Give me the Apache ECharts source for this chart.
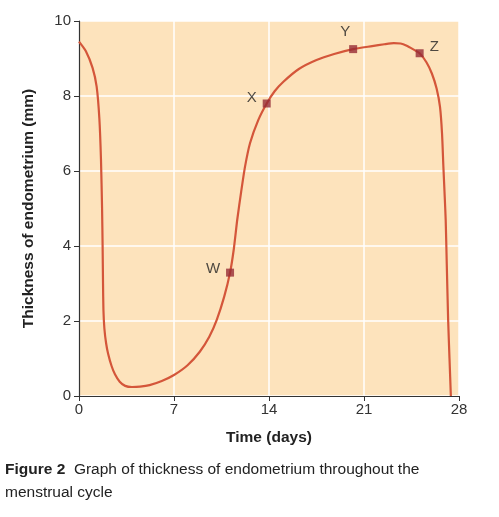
<!DOCTYPE html>
<html>
<head>
<meta charset="utf-8">
<script src="https://cdn.jsdelivr.net/npm/echarts@6/dist/echarts.min.js"></script>
<style>
  html, body { margin: 0; padding: 0; background: #fff; }
  #chart { width: 499px; height: 517px; }
</style>
</head>
<body>
<div id="chart"></div>
<script>
// curve: day -> thickness (mm)
var curveDays = [0, 0.5, 1.0, 1.3, 1.5, 1.62, 1.7, 1.74, 1.77, 1.8, 1.87, 2.0, 2.15, 2.4, 2.65, 3.0, 3.4, 3.9, 4.5, 5.2, 6.1, 7.0, 8.0, 8.9, 9.6, 10.15, 10.7, 11.13, 11.4, 11.66, 11.95, 12.23, 12.6, 13.2, 13.83, 14.4, 15.06, 16.2, 17.5, 18.8, 20.2, 21.6, 22.5, 23.2, 23.7, 24.15, 24.6, 25.1, 25.6, 26.0, 26.35, 26.6, 26.75, 26.85, 26.95, 27.02, 27.1, 27.2, 27.3, 27.4];
var curveMm   = [9.45, 9.2, 8.75, 8.25, 7.4, 6.3, 5.0, 4.0, 3.0, 2.3, 1.8, 1.4, 1.12, 0.8, 0.58, 0.38, 0.27, 0.24, 0.25, 0.29, 0.4, 0.56, 0.82, 1.18, 1.58, 2.03, 2.65, 3.29, 3.9, 4.7, 5.45, 6.11, 6.74, 7.35, 7.8, 8.12, 8.38, 8.72, 8.96, 9.12, 9.25, 9.33, 9.38, 9.41, 9.4, 9.34, 9.25, 9.14, 8.9, 8.6, 8.2, 7.71, 7.0, 6.11, 5.3, 4.69, 3.5, 2.03, 1.0, 0];

// labelled points
var pointNames = ['W', 'X', 'Y', 'Z'];
var pointDays  = [11.13, 13.83, 20.2, 25.1];
var pointMm    = [3.29, 7.8, 9.25, 9.14];

var xTicks = [0, 7, 14, 21, 28];
var yTicks = [0, 2, 4, 6, 8, 10];

var font = '"Liberation Sans", Arial, sans-serif';

var curve = curveDays.map(function (d, i) { return [d, curveMm[i]]; });
var labelPos = { W: 'left', X: 'left', Y: 'top', Z: 'right' };
var labelOffset = { W: [0, -4], X: [0, -6], Y: [-8, 0], Z: [0, -6] };
var points = pointDays.map(function (d, i) {
  var n = pointNames[i];
  return {
    value: [d, pointMm[i]],
    name: n,
    label: { position: labelPos[n], offset: labelOffset[n] }
  };
});

var myChart = echarts.init(document.getElementById('chart'));
myChart.setOption({
  animation: false,
  textStyle: { fontFamily: font },
  grid: {
    left: 79,
    right: 40,
    top: 21,
    bottom: 121,
    show: true,
    backgroundColor: '#fde3bc',
    borderWidth: 0
  },
  xAxis: {
    type: 'value',
    min: xTicks[0],
    max: xTicks[xTicks.length - 1],
    interval: 7,
    name: 'Time (days)',
    nameLocation: 'middle',
    nameGap: 34,
    nameTextStyle: { fontFamily: font, fontSize: 15.5, fontWeight: 'bold', color: '#222' },
    axisLine: { lineStyle: { color: '#333', width: 1.2 } },
    axisTick: { length: 5, lineStyle: { color: '#333' } },
    axisLabel: { fontFamily: font, fontSize: 15, color: '#333', margin: 6 },
    splitLine: { show: true, lineStyle: { color: '#fff', width: 1.5 } }
  },
  yAxis: {
    type: 'value',
    min: yTicks[0],
    max: yTicks[yTicks.length - 1],
    interval: 2,
    name: 'Thickness of endometrium (mm)',
    nameLocation: 'middle',
    nameGap: 42,
    nameTextStyle: { fontFamily: font, fontSize: 15.5, fontWeight: 'bold', color: '#222' },
    axisLine: { show: true, lineStyle: { color: '#333', width: 1.2 } },
    axisTick: { show: true, length: 5, lineStyle: { color: '#333' } },
    axisLabel: { fontFamily: font, fontSize: 15, color: '#333', margin: 8 },
    splitLine: { show: true, lineStyle: { color: '#fff', width: 1.5 } }
  },
  series: [
    {
      type: 'line',
      data: curve,
      smooth: 0.2,
      showSymbol: false,
      lineStyle: { color: '#d4563a', width: 2.2 },
      z: 2
    },
    {
      type: 'scatter',
      data: points,
      symbol: 'rect',
      symbolSize: 8,
      itemStyle: { color: '#962b35' },
      label: {
        show: true,
        formatter: '{b}',
        fontFamily: font,
        fontSize: 15,
        color: '#222',
        distance: 6
      },
      z: 3
    }
  ],
  graphic: [
    {
      type: 'text',
      left: 5,
      top: 458,
      style: {
        text: '{b|Figure 2}  Graph of thickness of endometrium throughout the\nmenstrual cycle',
        fontFamily: font,
        fontSize: 15.5,
        lineHeight: 23,
        fill: '#222',
        rich: {
          b: { fontFamily: font, fontSize: 15.5, fontWeight: 'bold', fill: '#222' }
        }
      }
    }
  ]
});
</script>
</body>
</html>
